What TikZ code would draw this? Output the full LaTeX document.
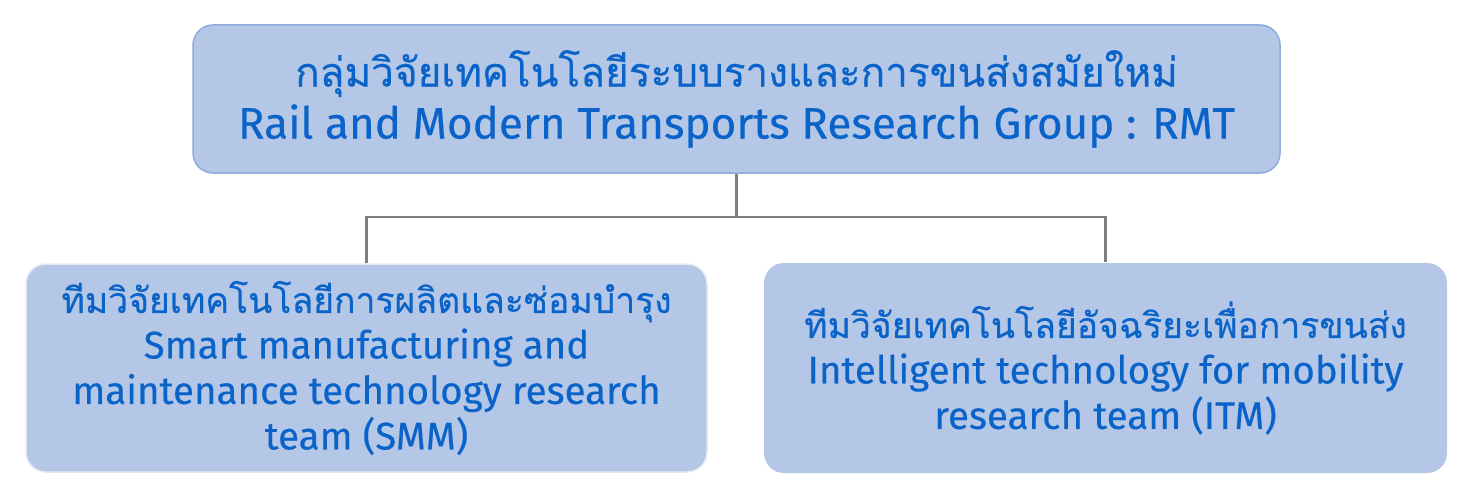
\documentclass[tikz,border=0pt]{standalone}
\usepackage{fontspec}
\setmainfont{Fira Sans}[FakeBold=0.3]
\newfontfamily\thaifont[Script=Thai,FakeBold=0.4]{Loma}
\definecolor{rmtfill}{HTML}{B4C7E7}
\definecolor{rmtedge}{HTML}{8FAADC}
\definecolor{teamedge}{HTML}{E4EAF4}
\definecolor{rmtblue}{HTML}{0A63C8}
\definecolor{linkgray}{HTML}{7F7F7F}

\begin{document}
\begin{tikzpicture}[x=1pt,y=1pt,
  groupbox/.style={fill=rmtfill, rounded corners=20pt, line width=1.5pt, align=center, text=rmtblue, inner sep=0pt},
  link/.style={linkgray, line width=2.5pt}]
  \useasboundingbox (0,0) rectangle (1463,491);
  \node[groupbox, draw=rmtedge, minimum width=1087pt, minimum height=148pt, font=\fontsize{44}{52}\selectfont] (rmt) at (736.5,392)
    {{\thaifont\fontsize{40.5}{52}\selectfont กลุ่มวิจัยเทคโนโลยีระบบรางและการขนส่งสมัยใหม่}\\Rail and Modern Transports Research Group : RMT};
  \node[groupbox, draw=teamedge, minimum width=681pt, minimum height=208pt, font=\fontsize{38.5}{45.5}\selectfont] (smm) at (366.5,123)
    {{\thaifont\fontsize{35.5}{45.5}\selectfont ทีมวิจัยเทคโนโลยีการผลิตและซ่อมบำรุง}\\Smart manufacturing and\\maintenance technology research\\team (SMM)};
  \node[groupbox, minimum width=683pt, minimum height=210pt, font=\fontsize{38.5}{45.5}\selectfont] (itm) at (1105.5,123)
    {{\thaifont\fontsize{35.5}{45.5}\selectfont ทีมวิจัยเทคโนโลยีอัจฉริยะเพื่อการขนส่ง}\\Intelligent technology for mobility\\research team (ITM)};
  \coordinate (split) at (736.5,274);
  \draw[link] (rmt.south) -- (split) -| (smm.north);
  \draw[link] (split) -| (itm.north);
\end{tikzpicture}
\end{document}
